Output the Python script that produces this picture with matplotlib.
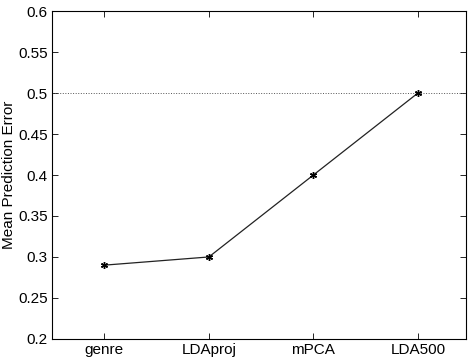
import matplotlib
matplotlib.use("Agg")
import matplotlib.pyplot as plt

plt.rcParams['font.family'] = ['Liberation Sans', 'DejaVu Sans']

# data
methods = ['genre', 'LDAproj', 'mPCA', 'LDA500']
errors = [0.29, 0.30, 0.40, 0.50]
baseline = 0.5
yticks = [0.2, 0.25, 0.3, 0.35, 0.4, 0.45, 0.5, 0.55, 0.6]

fig = plt.figure(figsize=(4.74, 3.59), dpi=100)
ax = fig.add_axes([0.110, 0.056, 0.873, 0.913])

pos = list(range(1, len(methods) + 1))
ax.axhline(baseline, color='#555555', linestyle=':', linewidth=0.7)
ax.plot(pos, errors, color='#222222', linewidth=0.9, marker=(6, 2, 0),
        markersize=5, markeredgewidth=1.0, markeredgecolor='black')

ax.set_xlim(0.5, 4.46)
ax.set_ylim(0.2, 0.6)
ax.set_xticks(pos)
ax.set_xticklabels(methods)
ax.set_yticks(yticks)
ax.set_yticklabels([f'{v:g}' for v in yticks])
ax.set_ylabel('Mean Prediction Error', fontsize=11)
ax.yaxis.set_label_coords(-0.088, 0.5)
ax.tick_params(direction='in', top=True, right=True, labelsize=11,
               length=4, width=0.6, pad=3)
for s in ax.spines.values():
    s.set_linewidth(0.8)

fig.savefig('out.png', dpi=100)
